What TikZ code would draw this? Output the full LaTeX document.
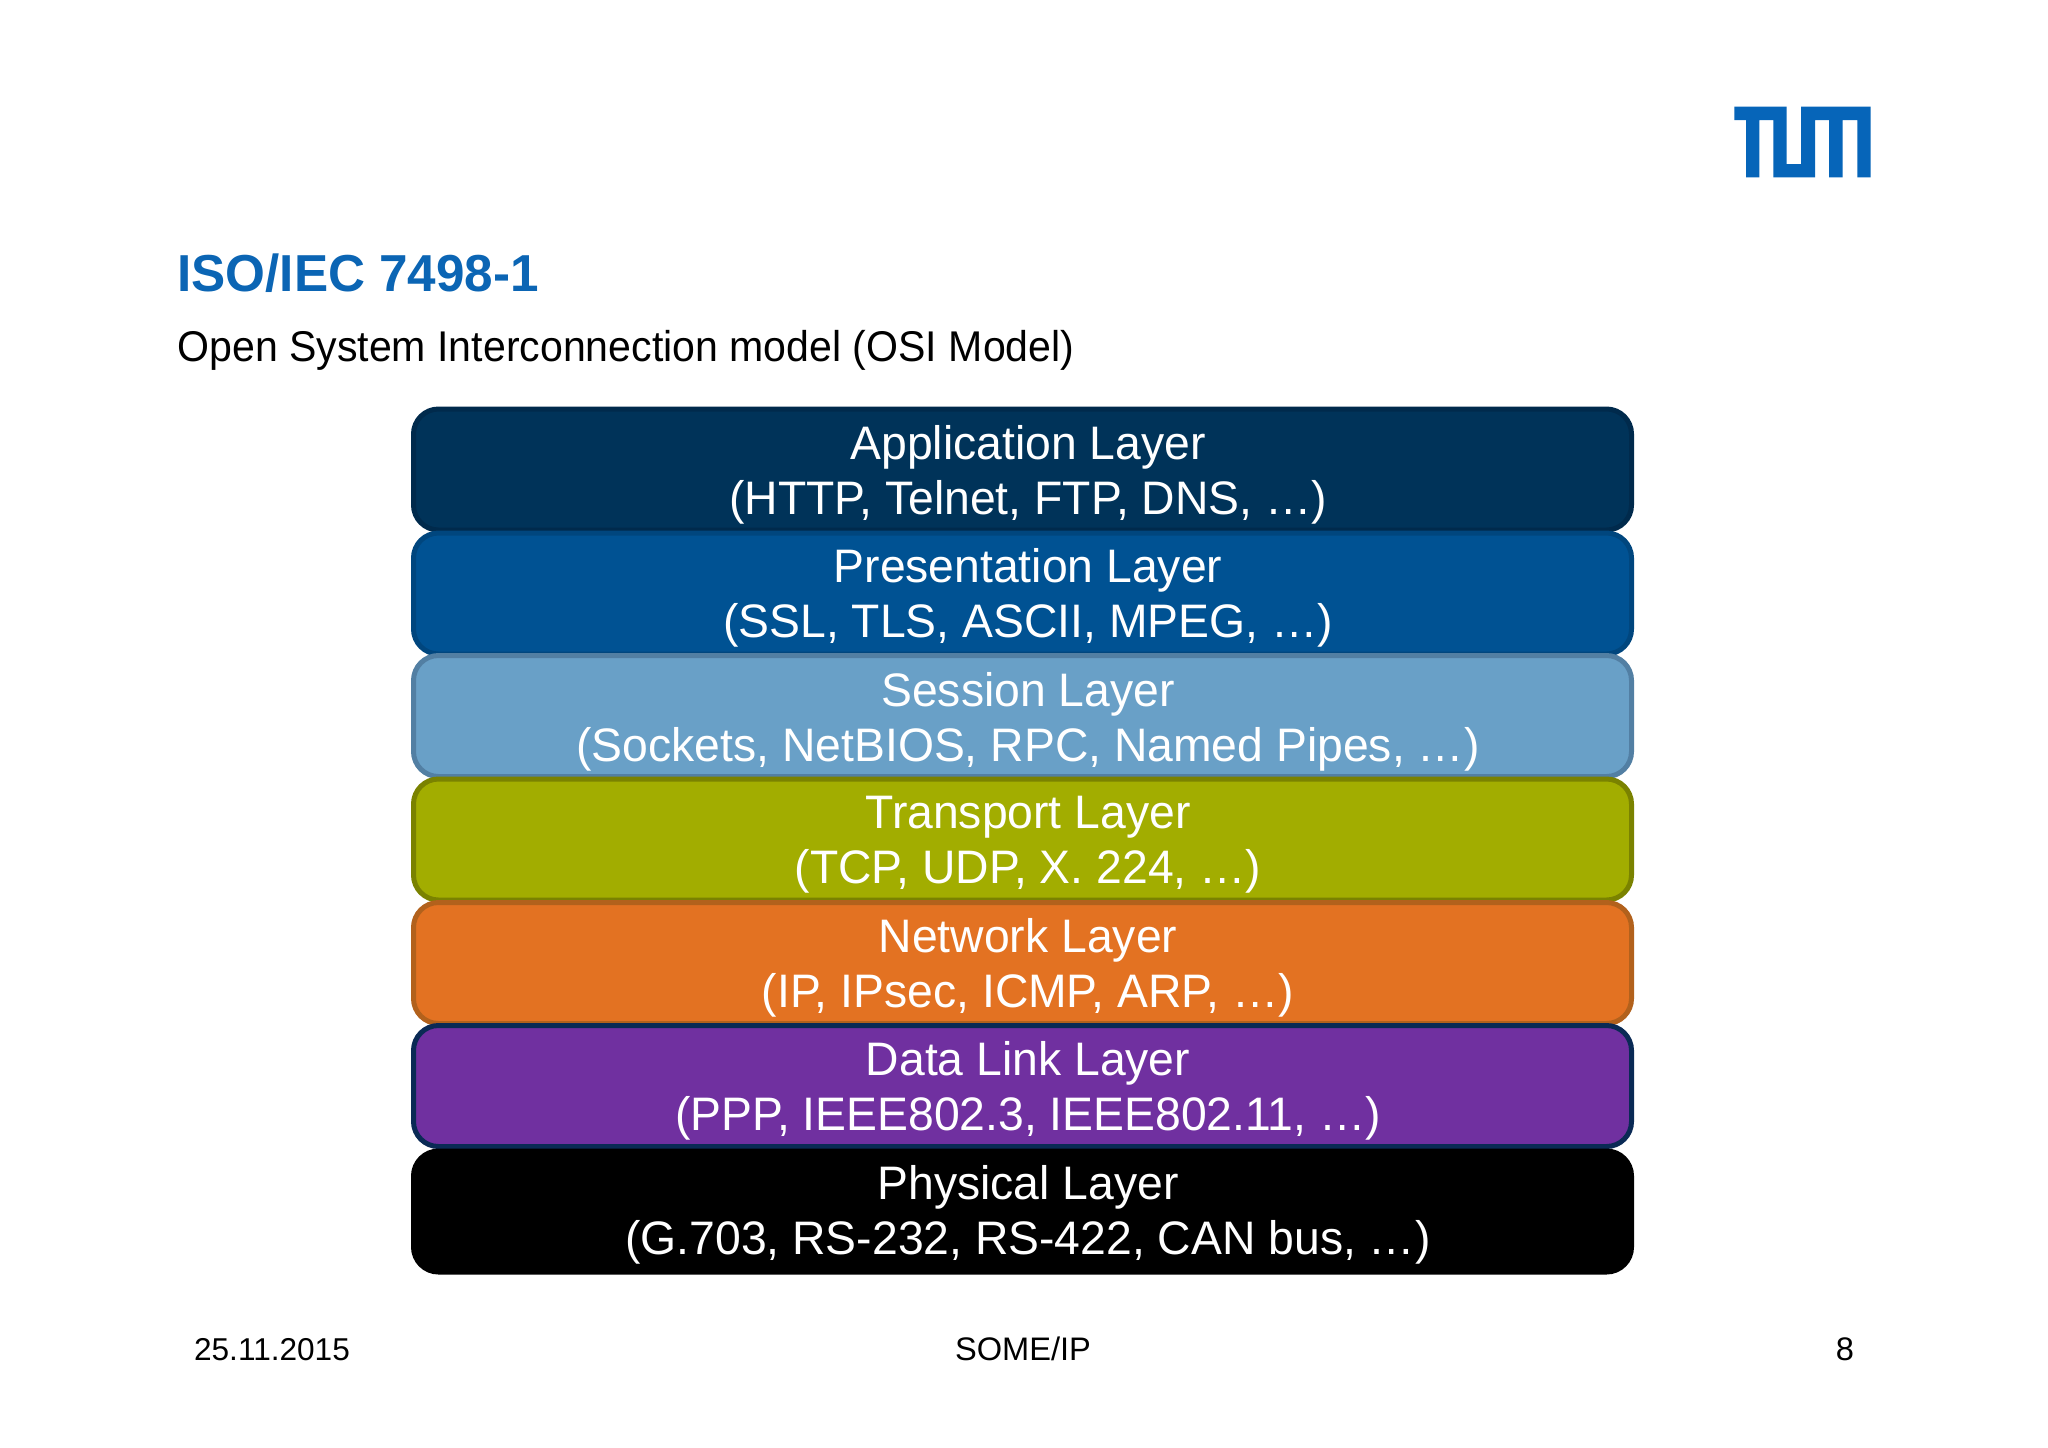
\documentclass[tikz,border=0pt]{standalone}
\usepackage{fontspec}
\setmainfont{Liberation Sans}
\newfontfamily\layerfont[FakeStretch=0.985,WordSpace=0.85]{Liberation Sans}
\newfontfamily\subfont[FakeStretch=0.955]{Liberation Sans}
\newfontfamily\titlefont[FakeStretch=0.985]{Liberation Sans}
\definecolor{tumblue}{HTML}{0665B9}
\definecolor{titleblue}{HTML}{0B65B4}
\definecolor{appfill}{HTML}{003359}
\definecolor{appline}{HTML}{002A4C}
\definecolor{presfill}{HTML}{005293}
\definecolor{presline}{HTML}{00467E}
\definecolor{sessfill}{HTML}{69A0C7}
\definecolor{sessline}{HTML}{527FA3}
\definecolor{transfill}{HTML}{A2AD00}
\definecolor{transline}{HTML}{7A8200}
\definecolor{netfill}{HTML}{E37222}
\definecolor{netline}{HTML}{B2611C}
\definecolor{datafill}{HTML}{7030A0}
\definecolor{dataline}{HTML}{0A2A55}
\tikzset{
  x=0.5pt,y=-0.5pt,
  layerbox/.style 2 args={draw=#2,fill=#1,line width=2.5pt,rounded corners=12.5pt,
    minimum width=609pt,minimum height=60.5pt,inner sep=0pt,anchor=center},
  layertext/.style={inner sep=0pt,align=center,text=white,anchor=center,
    font=\layerfont\fontsize{23.5pt}{27.6pt}\selectfont},
  footer/.style={font=\fontsize{16.3pt}{19pt}\selectfont,text=black,inner sep=0pt,anchor=base},
}
\begin{document}
\begin{tikzpicture}
\useasboundingbox (0,0) rectangle (2048,1447);
\fill[white] (0,0) rectangle (2048,1447);
% logo
\fill[tumblue] (1734.3,106.7) -- (1786.7,106.7) -- (1786.7,164) -- (1801,164) -- (1801,106.7) -- (1870.7,106.7) -- (1870.7,177.3) -- (1857.3,177.3) -- (1857.3,120) -- (1842.7,120) -- (1842.7,177.3) -- (1829,177.3) -- (1829,120) -- (1815,120) -- (1815,177.3) -- (1773.3,177.3) -- (1773.3,120) -- (1759.3,120) -- (1759.3,177.3) -- (1746,177.3) -- (1746,120) -- (1734.3,120) -- cycle;
\node[anchor=base west,inner sep=0pt,text=titleblue,font=\titlefont\bfseries\fontsize{26pt}{30pt}\selectfont] (title) at (177,291) {ISO/IEC 7498-1};
\node[anchor=base west,inner sep=0pt,text=black,font=\subfont\fontsize{21.5pt}{25pt}\selectfont] (sub) at (177,361) {Open System Interconnection model (OSI Model)};
\node[layerbox={appfill}{appline}] (app) at (1022.5,469.5) {};
\node[layertext] (apptext) at ([shift={(5.5,5)}]app.center) {Application Layer\\(HTTP, Telnet, FTP, DNS, …)};
\node[layerbox={presfill}{presline}] (pres) at (1022.5,593.5) {};
\node[layertext] (prestext) at ([shift={(5.5,4.5)}]pres.center) {Presentation Layer\\(SSL, TLS, ASCII, MPEG, …)};
\node[layerbox={sessfill}{sessline}] (sess) at (1022.5,716) {};
\node[layertext] (sesstext) at ([shift={(5.5,5.5)}]sess.center) {Session Layer\\(Sockets, NetBIOS, RPC, Named Pipes, …)};
\node[layerbox={transfill}{transline}] (trans) at (1022.5,839.5) {};
\node[layertext] (transtext) at ([shift={(5.5,5)}]trans.center) {Transport Layer\\(TCP, UDP, X. 224, …)};
\node[layerbox={netfill}{netline}] (net) at (1022.5,963) {};
\node[layertext] (nettext) at ([shift={(5.5,5)}]net.center) {Network Layer\\(IP, IPsec, ICMP, ARP, …)};
\node[layerbox={datafill}{dataline}] (data) at (1022.5,1086) {};
\node[layertext] (datatext) at ([shift={(5.5,5)}]data.center) {Data Link Layer\\(PPP, IEEE802.3, IEEE802.11, …)};
\node[layerbox={black}{black}] (phys) at (1022.5,1211.5) {};
\node[layertext] (phystext) at ([shift={(5.5,3)}]phys.center) {Physical Layer\\(G.703, RS-232, RS-422, CAN bus, …)};
\node[footer,font=\fontsize{15.8pt}{19pt}\selectfont] (date) at (272,1360.5) {25.11.2015};
\node[footer] (topic) at (1023,1360.5) {SOME/IP};
\node[footer] (page) at (1845,1360.5) {8};
\end{tikzpicture}
\end{document}
